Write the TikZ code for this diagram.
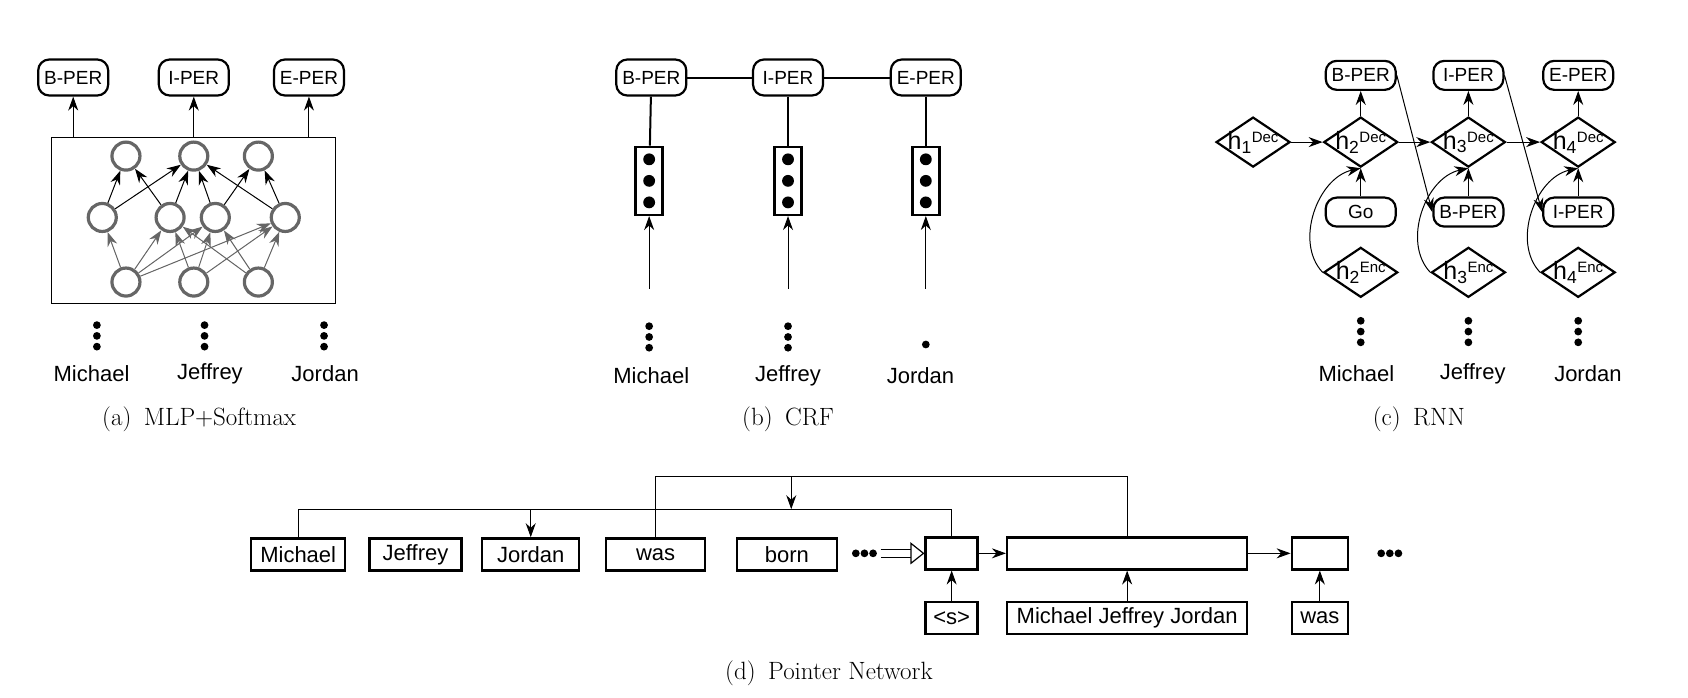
\documentclass[tikz,border=0pt]{standalone}
\usepackage{fontspec}
\newfontfamily\arialish{Liberation Sans}
\usetikzlibrary{arrows.meta,shapes.geometric,positioning}
\tikzset{
  tag/.style={draw, line width=2.2pt, rounded corners=11pt, font=\arialish\fontsize{19}{19}\selectfont, minimum width=70pt, minimum height=36pt, inner sep=1pt},
  neuron/.style={circle, draw=black!60, line width=3.2pt, minimum size=28pt, inner sep=0pt},
  hstate/.style={diamond, draw, line width=2.2pt, minimum width=74pt, minimum height=50pt, inner sep=0pt},
  word/.style={font=\arialish\fontsize{22}{22}\selectfont},
  tok/.style={draw, line width=2.4pt, font=\arialish\fontsize{22}{22}\selectfont, minimum height=32pt, inner sep=2pt},
  subcap/.style={font=\fontsize{25}{25}\selectfont},
  arr/.style={-{Stealth[length=14pt,width=10pt]}, line width=1pt},
  garr/.style={-{Stealth[length=14pt,width=10pt]}, line width=1pt, draw=black!60, fill=black!60},
}
\newcommand{\vdotsat}[2]{\foreach \k in {0,1,2} \fill (#1,#2+\k*10) circle (3.6);}
\newcommand{\hlab}[2]{{\arialish\fontsize{25}{25}\selectfont h\textsubscript{#1}\raisebox{7pt}{\fontsize{15}{15}\selectfont #2}}}
\begin{document}
\begin{tikzpicture}[x=1.0765pt,y=-1.0765pt]
\useasboundingbox (0,0) rectangle (1568,648);

% (a) MLP+Softmax
\node[tag] (aB) at (68,72) {B-PER};
\node[tag] (aI) at (180,72) {I-PER};
\node[tag] (aE) at (287,72) {E-PER};
\draw[line width=1.1pt] (48,128) rectangle (312,282);
\foreach \n/\x in {B/68,I/180,E/287}{
  \coordinate (atop\n) at (\x,128);
  \draw[arr] (atop\n) -- (a\n);
}
\foreach \i/\x in {1/117,2/180,3/240} \node[neuron] (t\i) at (\x,145) {};
\foreach \i/\x in {1/95,2/158,3/200,4/265} \node[neuron] (m\i) at (\x,202) {};
\foreach \i/\x in {1/117,2/180,3/240} \node[neuron] (b\i) at (\x,262) {};
\foreach \s/\t in {1/1,1/2,2/1,2/2,3/2,3/3,4/2,4/3} \draw[arr] (m\s) -- (t\t);
\foreach \s/\t in {1/1,1/2,1/3,1/4,2/2,2/3,2/4,3/2,3/3,3/4} \draw[garr] (b\s) -- (m\t);
\vdotsat{90}{302}\vdotsat{190}{302}\vdotsat{301}{302}
\node[word] (aw1) at (85,347) {Michael};
\node[word] (aw2) at (195,347) {Jeffrey};
\node[word] (aw3) at (302,347) {Jordan};
\node[subcap] (capa) at (185,389) {(a)\enspace MLP+Softmax};

% (b) CRF
\node[tag] (bB) at (605,72) {B-PER};
\node[tag] (bI) at (732,72) {I-PER};
\node[tag] (bE) at (860,72) {E-PER};
\draw[line width=2pt] (bB) -- (bI) -- (bE);
\foreach \n/\x in {B/603,I/732,E/860}{
  \node[draw, line width=2.4pt, minimum width=27pt, minimum height=68pt, inner sep=0pt] (cell\n) at (\x,168) {};
  \foreach \k in {-20,0,20} \fill (\x,168+\k) circle (5.5);
  \draw[line width=2pt] (b\n) -- (cell\n);
  \coordinate (bin\n) at (\x,268);
  \draw[arr] (bin\n) -- (cell\n);
}
\vdotsat{603}{303}\vdotsat{732}{303}
\fill (860,320) circle (3.6);
\node[word] (bw1) at (605,349) {Michael};
\node[word] (bw2) at (732,349) {Jeffrey};
\node[word] (bw3) at (855,349) {Jordan};
\node[subcap] (capb) at (732,389) {(b)\enspace CRF};

% (c) RNN
\node[hstate] (d1) at (1164,132) {};
\node at (1164,132) {\hlab{1}{Dec}};
\foreach \i/\x in {2/1264,3/1364,4/1466}{
  \node[hstate] (d\i) at (\x,132) {};
  \node at (\x,132) {\hlab{\i}{Dec}};
  \node[hstate] (e\i) at (\x,253) {};
  \node at (\x,253) {\hlab{\i}{Enc}};
  \draw[arr] (e\i.west) .. controls (\x-62,225) and (\x-40,165) .. (d\i.south);
}
\node[tag, minimum width=70pt, minimum height=29pt] (cB) at (1264,70) {B-PER};
\node[tag, minimum width=70pt, minimum height=29pt] (cI) at (1364,70) {I-PER};
\node[tag, minimum width=70pt, minimum height=29pt] (cE) at (1466,70) {E-PER};
\node[tag, minimum width=70pt, minimum height=29pt] (go) at (1264,197) {Go};
\node[tag, minimum width=70pt, minimum height=29pt] (cB2) at (1364,197) {B-PER};
\node[tag, minimum width=70pt, minimum height=29pt] (cI2) at (1466,197) {I-PER};
\draw[arr] (d1) -- (d2);
\draw[arr] (d2) -- (d3);
\draw[arr] (d3) -- (d4);
\draw[arr] (d2) -- (cB);
\draw[arr] (d3) -- (cI);
\draw[arr] (d4) -- (cE);
\draw[arr] (go) -- (d2);
\draw[arr] (cB2) -- (d3);
\draw[arr] (cI2) -- (d4);
\draw[arr] (cB.east) -- (cB2.west);
\draw[arr] (cI.east) -- (cI2.west);
\vdotsat{1264}{298}\vdotsat{1364}{298}\vdotsat{1466}{298}
\node[word] (cw1) at (1260,347) {Michael};
\node[word] (cw2) at (1368,347) {Jeffrey};
\node[word] (cw3) at (1475,347) {Jordan};
\node[subcap] (capc) at (1318,389) {(c)\enspace RNN};

% (d) Pointer Network
\node[tok, minimum width=94pt] (pMichael) at (277,515) {Michael};
\node[tok, minimum width=92pt] (pJeffrey) at (386,515) {Jeffrey};
\node[tok, minimum width=97pt] (pJordan) at (493,515) {Jordan};
\node[tok, minimum width=99pt] (pwas) at (609,515) {was};
\node[tok, minimum width=100pt] (pborn) at (731,515) {born};
\foreach \k in {0,8,16} \fill (795+\k,514) circle (3.6);
\node[tok, minimum width=52pt] (s1) at (884,514) {};
\node[tok, minimum width=240pt] (s2) at (1047,514) {};
\node[tok, minimum width=56pt] (s3) at (1226,514) {};
\foreach \k in {0,8,16} \fill (1283+\k,514) circle (3.6);
\draw[line width=1.2pt, double distance=7pt, -{Triangle[open,length=14pt,width=22pt]}] (818,514) -- (s1.west);
\node[tok, minimum width=52pt] (i1) at (884,574) {<s>};
\node[tok, minimum width=240pt] (i2) at (1047,574) {Michael Jeffrey Jordan};
\node[tok, minimum width=56pt] (i3) at (1226,574) {was};
\draw[arr] (i1) -- (s1);
\draw[arr] (i2) -- (s2);
\draw[arr] (i3) -- (s3);
\draw[arr] (s1) -- (s2);
\draw[arr] (s2) -- (s3);
\coordinate (hiL) at (277,473);
\coordinate (hiR) at (884,473);
\coordinate (hiJ) at (493,473);
\draw[line width=1pt] (pMichael.north) -- (hiL) -- (hiR) -- (s1.north);
\draw[arr] (hiJ) -- (pJordan.north);
\coordinate (toL) at (609,443);
\coordinate (toR) at (1047,443);
\coordinate (toM) at (735,443);
\coordinate (toD) at (735,473);
\draw[line width=1pt] (pwas.north) -- (toL) -- (toR) -- (s2.north);
\draw[arr] (toM) -- (toD);
\node[subcap] (capd) at (770,625) {(d)\enspace Pointer Network};
\end{tikzpicture}
\end{document}
